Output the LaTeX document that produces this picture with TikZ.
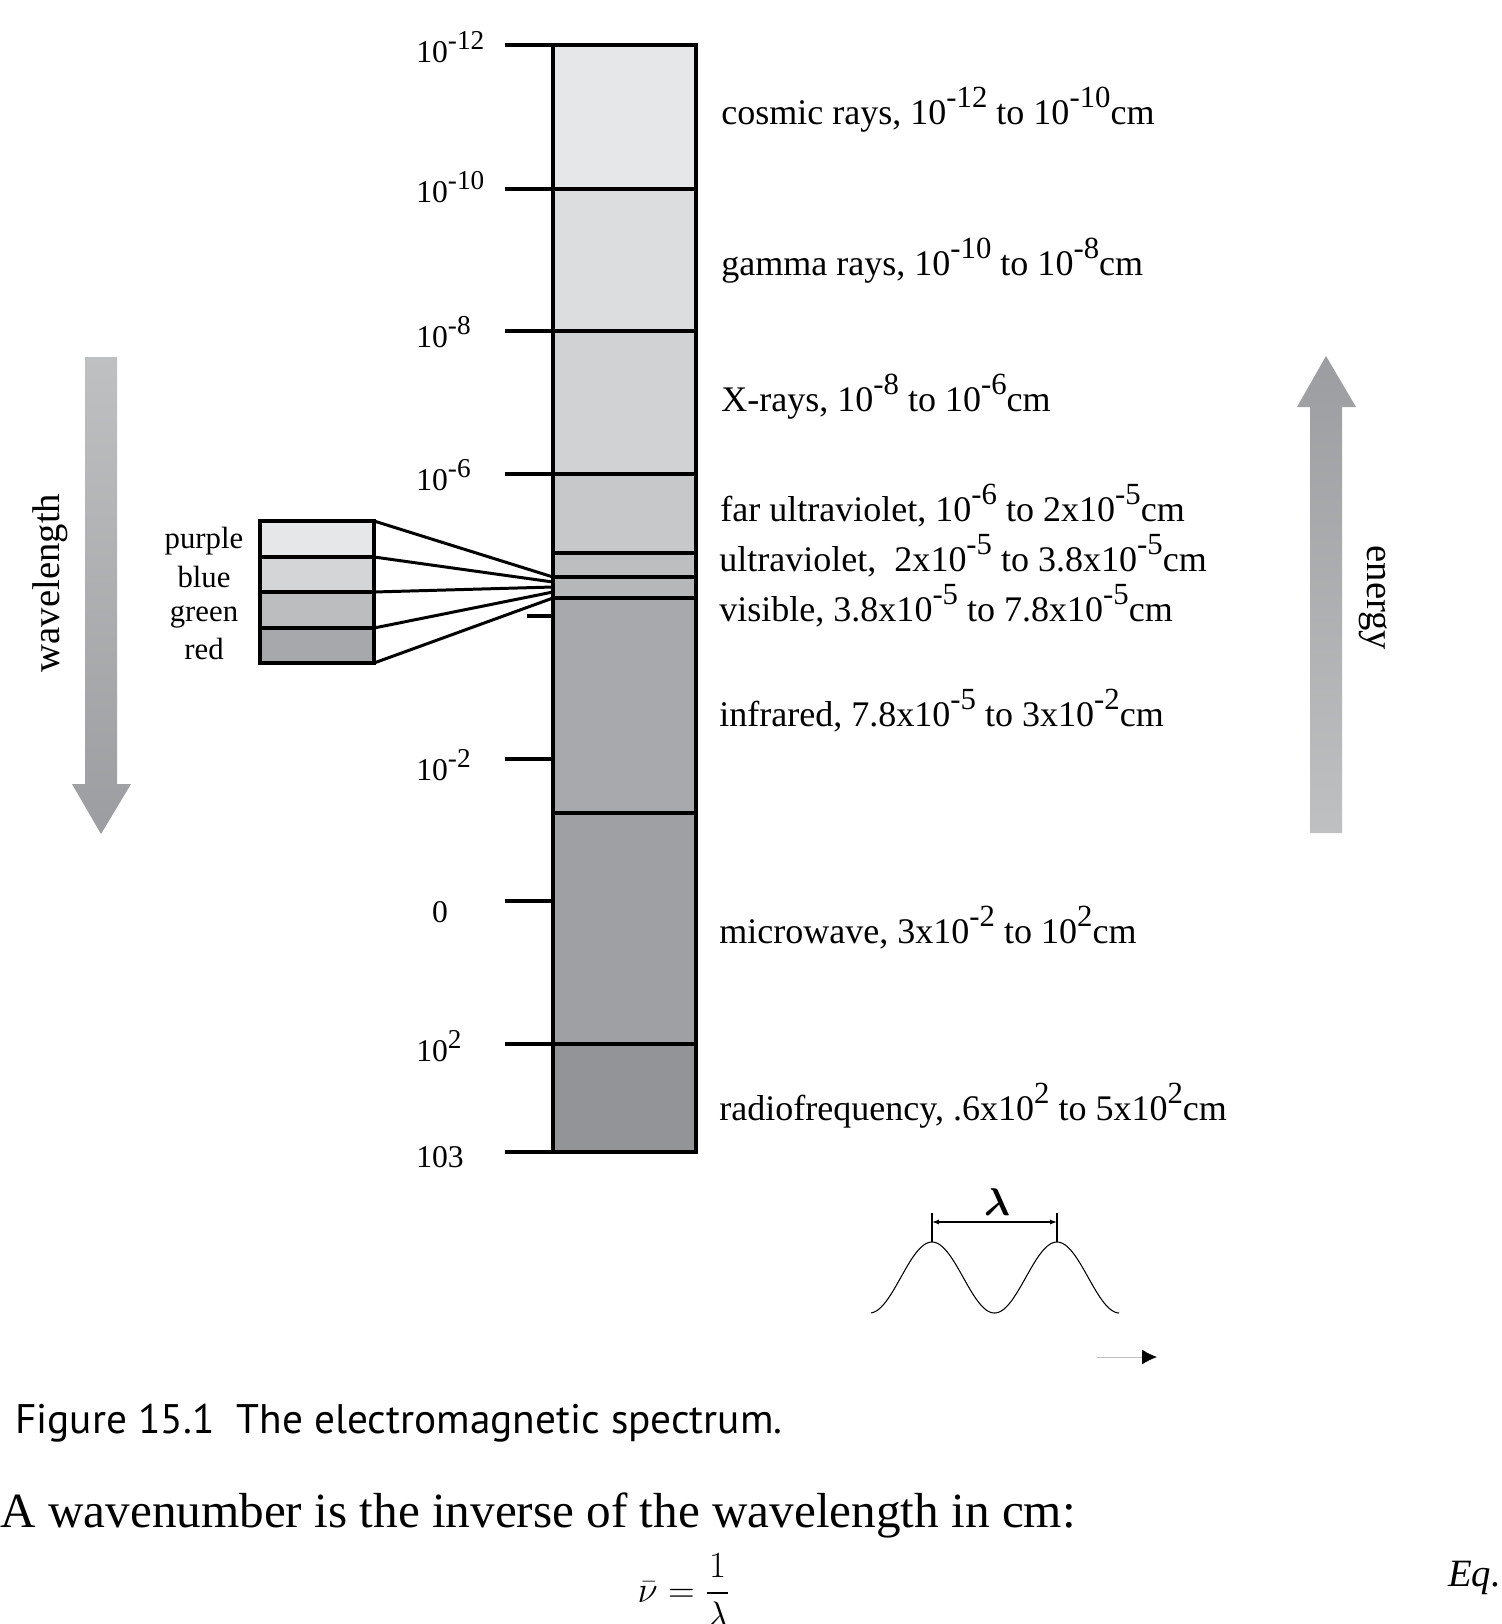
\RequirePackage{fix-cm}
\documentclass[tikz,border=0pt]{standalone}
\usepackage{amsmath,amssymb}
\usepackage{fontspec}
\setmainfont{Liberation Serif}
\newfontfamily\captionfont{PT Sans}
\usetikzlibrary{arrows.meta,positioning}

\definecolor{cosmicgray}{HTML}{E6E7E8}
\definecolor{gammagray}{HTML}{DCDDDF}
\definecolor{xraygray}{HTML}{D1D2D4}
\definecolor{faruvgray}{HTML}{C7C8CA}
\definecolor{uvgray}{HTML}{BDBEC0}
\definecolor{visgray}{HTML}{B6B7B9}
\definecolor{irgray}{HTML}{A8A9AC}
\definecolor{microgray}{HTML}{9FA0A3}
\definecolor{radiogray}{HTML}{939497}
\definecolor{purplegray}{HTML}{E6E7E8}
\definecolor{bluegray}{HTML}{D4D5D7}
\definecolor{greengray}{HTML}{BCBDBF}
\definecolor{redgray}{HTML}{A7A8AB}
\definecolor{arrowlight}{HTML}{BFC0C2}
\definecolor{arrowdark}{HTML}{9C9DA0}

\newcommand{\hoch}[1]{\raisebox{0.47em}{\fontsize{17.5}{17.5}\selectfont #1}}
\newcommand{\skalahoch}[1]{\raisebox{0.38em}{\fontsize{15.5}{15.5}\selectfont #1}}

\begin{document}
\begin{tikzpicture}[x=0.2mm, y=-0.2mm,
				>=latex,   %Pfeilspitzen
				band/.style={draw, line width=1.9pt},
				tick/.style={line width=1.9pt},
				fan/.style={line width=1.7pt},
				bandlabel/.style={anchor=base west, inner sep=0pt, font=\fontsize{20.5}{25}\selectfont},
				ticklabel/.style={anchor=base west, inner sep=0pt, font=\fontsize{18}{22}\selectfont},
				colorlabel/.style={anchor=base, inner sep=0pt, font=\fontsize{17.5}{21}\selectfont},
				arrowlabel/.style={inner sep=0pt, font=\fontsize{22}{26}\selectfont}]
				%Bildbereich
				\useasboundingbox (0,0) rectangle (1501,1624);
				\clip (0,0) rectangle (1501,1624);
				% Faecher zum sichtbaren Bereich
				\foreach \ya/\yb [count=\i] in {521/577, 557/582, 592/587, 628/592, 663/598} {
					\coordinate (feld\i) at (374,\ya);
					\coordinate (vis\i) at (553,\yb);
					\draw[fan] (feld\i) -- (vis\i);
				}
				% Spektrum-Balken
				\foreach \ya/\yb/\farbe in {45/189/cosmicgray, 189/331/gammagray, 331/474/xraygray, 474/553/faruvgray, 553/577/uvgray, 577/598/visgray, 598/813/irgray, 813/1044/microgray, 1044/1152/radiogray}
					\draw[band, fill=\farbe] (553,\ya) rectangle (696,\yb);
				% Skalenstriche
				\foreach \y in {45,189,331,474,759,901,1044,1152} \draw[tick] (505,\y) -- (553,\y);
				\draw[tick] (527,616) -- (553,616);
				% Skala beschriften
				\node[ticklabel] (s12) at (416,62) {10\skalahoch{-12}};
				\node[ticklabel] (s10) at (416,202) {10\skalahoch{-10}};
				\node[ticklabel] (s8) at (416,347) {10\skalahoch{-8}};
				\node[ticklabel] (s6) at (416,490) {10\skalahoch{-6}};
				\node[ticklabel] (s2) at (416,780) {10\skalahoch{-2}};
				\node[ticklabel, anchor=base] (s0) at (440,922) {0};
				\node[ticklabel] (sp2) at (416,1061) {10\skalahoch{2}};
				\node[ticklabel] (sp3) at (416,1167) {103};
				% Farbfelder
				\foreach \ya/\yb/\farbe in {521/557/purplegray, 557/592/bluegray, 592/628/greengray, 628/663/redgray}
					\draw[band, fill=\farbe] (260,\ya) rectangle (374,\yb);
				\node[colorlabel] (lpurple) at (204,548) {purple};
				\node[colorlabel] (lblue) at (204,587) {blue};
				\node[colorlabel] (lgreen) at (204,621) {green};
				\node[colorlabel] (lred) at (204,659) {red};
				% Bereiche beschriften
				\node[bandlabel] (cosmic) at (721,124) {cosmic rays, 10\hoch{-12} to 10\hoch{-10}cm};
				\node[bandlabel] (gamma) at (721,275) {gamma rays, 10\hoch{-10} to 10\hoch{-8}cm};
				\node[bandlabel] (xray) at (721,411) {X-rays, 10\hoch{-8} to 10\hoch{-6}cm};
				\node[bandlabel] (faruv) at (720,521) {far ultraviolet, 10\hoch{-6} to 2x10\hoch{-5}cm};
				\node[bandlabel] (uv) at (719,571) {ultraviolet,\ \ 2x10\hoch{-5} to 3.8x10\hoch{-5}cm};
				\node[bandlabel] (vis) at (719,621) {visible, 3.8x10\hoch{-5} to 7.8x10\hoch{-5}cm};
				\node[bandlabel] (ir) at (719,726) {infrared, 7.8x10\hoch{-5} to 3x10\hoch{-2}cm};
				\node[bandlabel] (micro) at (719,943) {microwave, 3x10\hoch{-2} to 10\hoch{2}cm};
				\node[bandlabel] (radio) at (719,1120) {radiofrequency, .6x10\hoch{2} to 5x10\hoch{2}cm};
				% Pfeile links und rechts
				\shade[top color=arrowlight, bottom color=arrowdark] (85,357) -- (117,357) -- (117,784) -- (131,784) -- (101,834) -- (72,784) -- (85,784) -- cycle;
				\node[arrowlabel, rotate=90] (wl) at (50,583) {wavelength};
				\shade[top color=arrowdark, bottom color=arrowlight] (1310,833) -- (1342,833) -- (1342,407) -- (1356,407) -- (1326,356) -- (1297,407) -- (1310,407) -- cycle;
				\node[arrowlabel, rotate=-90] (en) at (1373,598) {energy};
				% Welle
				\draw[line width=0.6pt, domain=871:1119, samples=150] plot (\x, {1277.5-35.5*cos(2.88*(\x-932))});
				\coordinate (pk1) at (932,1242); \coordinate (pk2) at (1057,1242);
				\coordinate (mk1) at (932,1213); \coordinate (mk2) at (1057,1213);
				\coordinate (d1) at (932,1222); \coordinate (d2) at (1057,1222);
				\draw[line width=0.6pt] (pk1) -- (mk1);
				\draw[line width=0.6pt] (pk2) -- (mk2);
				\draw[line width=0.6pt, {Latex[length=1.4mm,width=1mm]}-{Latex[length=1.4mm,width=1mm]}] (d1) -- (d2);
				\node[arrowlabel] (lam) at (997,1202) {$\boldsymbol{\lambda}$};
				% Laufrichtung
				\coordinate (r1) at (1097,1357); \coordinate (r2) at (1157,1357);
				\draw[gray!50, line width=0.5pt, -{Latex[color=black, length=3mm, width=3mm]}] (r1) -- (r2);
				% Text unten
				\node[anchor=base west, inner sep=0pt, font=\captionfont\fontsize{23.5}{28}\selectfont] (cap) at (15,1433) {Figure 15.1\ \ The electromagnetic spectrum.};
				\node[anchor=base west, inner sep=0pt, font=\fontsize{28}{32}\selectfont] (txt) at (0,1527) {A wavenumber is the inverse of the wavelength in cm:};
				\node[anchor=base, inner sep=0pt, font=\fontsize{21}{24}\selectfont] (gl) at (684,1602) {$\bar{\nu} = \dfrac{1}{\lambda}$};
				\node[anchor=base west, inner sep=0pt, font=\fontsize{22}{26}\selectfont\itshape] (eq) at (1448,1586) {Eq.};
			\end{tikzpicture}
\end{document}
